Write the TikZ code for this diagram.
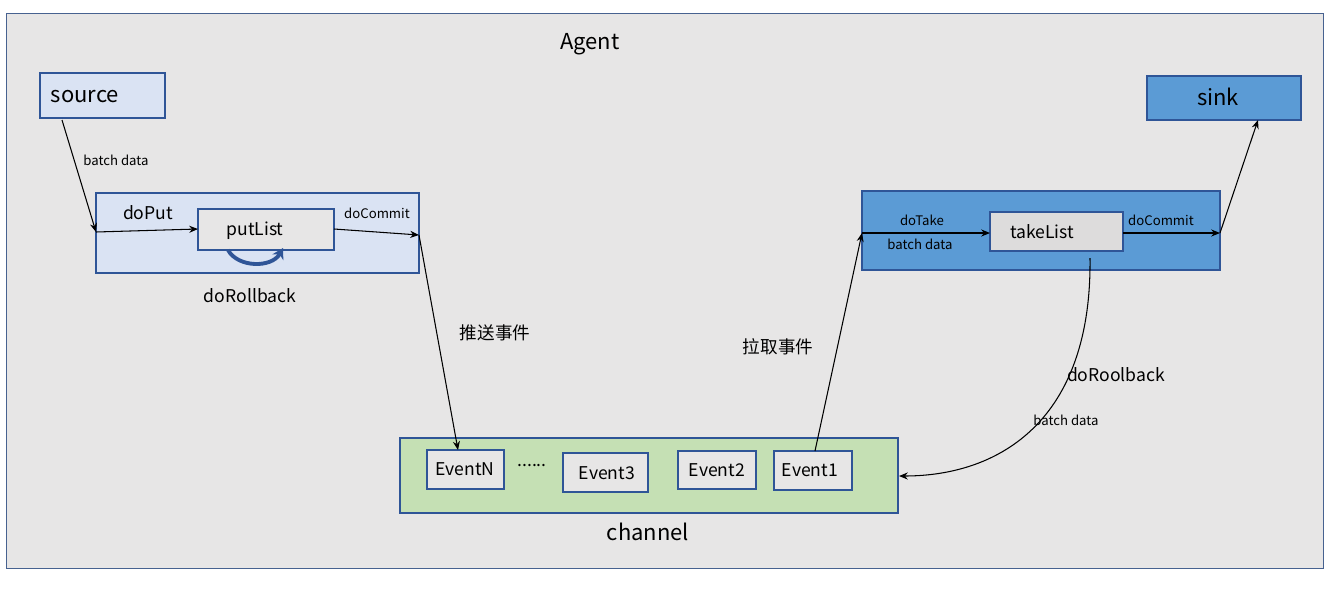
\documentclass[tikz,border=0pt]{standalone}
\usepackage{fontspec}
\setmainfont{Noto Sans CJK SC}
\usetikzlibrary{arrows.meta}
\definecolor{bg}{HTML}{E7E6E6}
\definecolor{lb}{HTML}{DAE3F3}
\definecolor{mb}{HTML}{5B9BD5}
\definecolor{bd}{HTML}{2F5597}
\definecolor{gr}{HTML}{C5E0B4}
\begin{document}
\begin{tikzpicture}[x=0.02cm,y=-0.02cm,
 box/.style={draw=bd,line width=0.6pt},
 arr/.style={-{Stealth[length=5pt,width=4pt]},line width=0.6pt},
 sm/.style={font=\fontsize{7.5}{8}\selectfont},
 md/.style={font=\fontsize{10}{11}\selectfont},
 lg/.style={font=\fontsize{12.5}{14}\selectfont}]
\useasboundingbox (0,0) rectangle (1333,589);
\draw[draw=bd!70!gray,fill=bg] (6,13) rectangle (1323,568);
\node[lg] (agent) at (590,44) {Agent};
\draw[box,fill=lb] (40,73) rectangle (165,118);
\node[lg] (source) at (85,97) {source};
\draw[box,fill=mb] (1147,76) rectangle (1301,120);
\node[lg] (sink) at (1218,97) {sink};
\draw[box,fill=lb] (96,193) rectangle (419,273);
\draw[box,fill=bg] (198,209) rectangle (334,250);
\node[md] (putlist) at (255,231) {putList};
\node[md] at (148,213) {doPut};
\node[sm] at (377,213) {doCommit};
\node[md] at (250,296) {doRollback};
\coordinate (s1) at (62,120); \coordinate (p1) at (96,232);
\coordinate (p2) at (198,229); \coordinate (p3) at (334,229); \coordinate (p4) at (419,235);
\draw[arr] (s1) -- (p1);
\node[sm] at (116,160) {batch data};
\draw[arr] (p1) -- (p2);
\draw[arr] (p3) -- (p4);
\draw[bd,line width=2.2pt,-{Stealth[length=6pt,width=7pt]}] (228,250) .. controls (238,268) and (272,268) .. (283,248);
\draw[box,fill=mb] (862,191) rectangle (1220,270);
\draw[box,fill=bg!90!gray] (990,212) rectangle (1123,251);
\node[md] (takelist) at (1042,232) {takeList};
\node[sm] at (922,220) {doTake};
\node[sm] at (920,244) {batch data};
\node[sm] at (1161,220) {doCommit};
\coordinate (t1) at (862,233); \coordinate (t2) at (990,233);
\coordinate (t3) at (1123,233); \coordinate (t4) at (1220,233); \coordinate (sk) at (1258,120);
\draw[arr] (t1) -- (t2);
\draw[arr] (t3) -- (t4);
\draw[arr] (t4) -- (sk);
\draw[box,fill=gr] (400,438) rectangle (898,513);
\node[lg] (channel) at (648,532) {channel};
\draw[box,fill=bg] (427,450) rectangle (504,489); \node[md] at (465,469) {EventN};
\draw[box,fill=bg] (563,453) rectangle (648,492); \node[md] at (607,473) {Event3};
\draw[box,fill=bg] (678,451) rectangle (756,489); \node[md] at (717,470) {Event2};
\draw[box,fill=bg] (774,451) rectangle (852,490); \node[md] at (810,470) {Event1};
\node[md] at (532,465) {......};
\coordinate (en) at (458,450); \coordinate (e1) at (815,451);
\draw[arr] (p4) -- (en);
\node[md] at (495,333) {推送事件};
\draw[arr] (e1) -- (t1);
\node[md] at (778,347) {拉取事件};
\coordinate (tb) at (1090,258); \coordinate (ch) at (899,476);
\draw[arr] (tb) .. controls (1092,420) and (1000,476) .. (ch);
\node[md] at (1116,375) {doRoolback};
\node[sm] at (1066,420) {batch data};
\end{tikzpicture}
\end{document}
